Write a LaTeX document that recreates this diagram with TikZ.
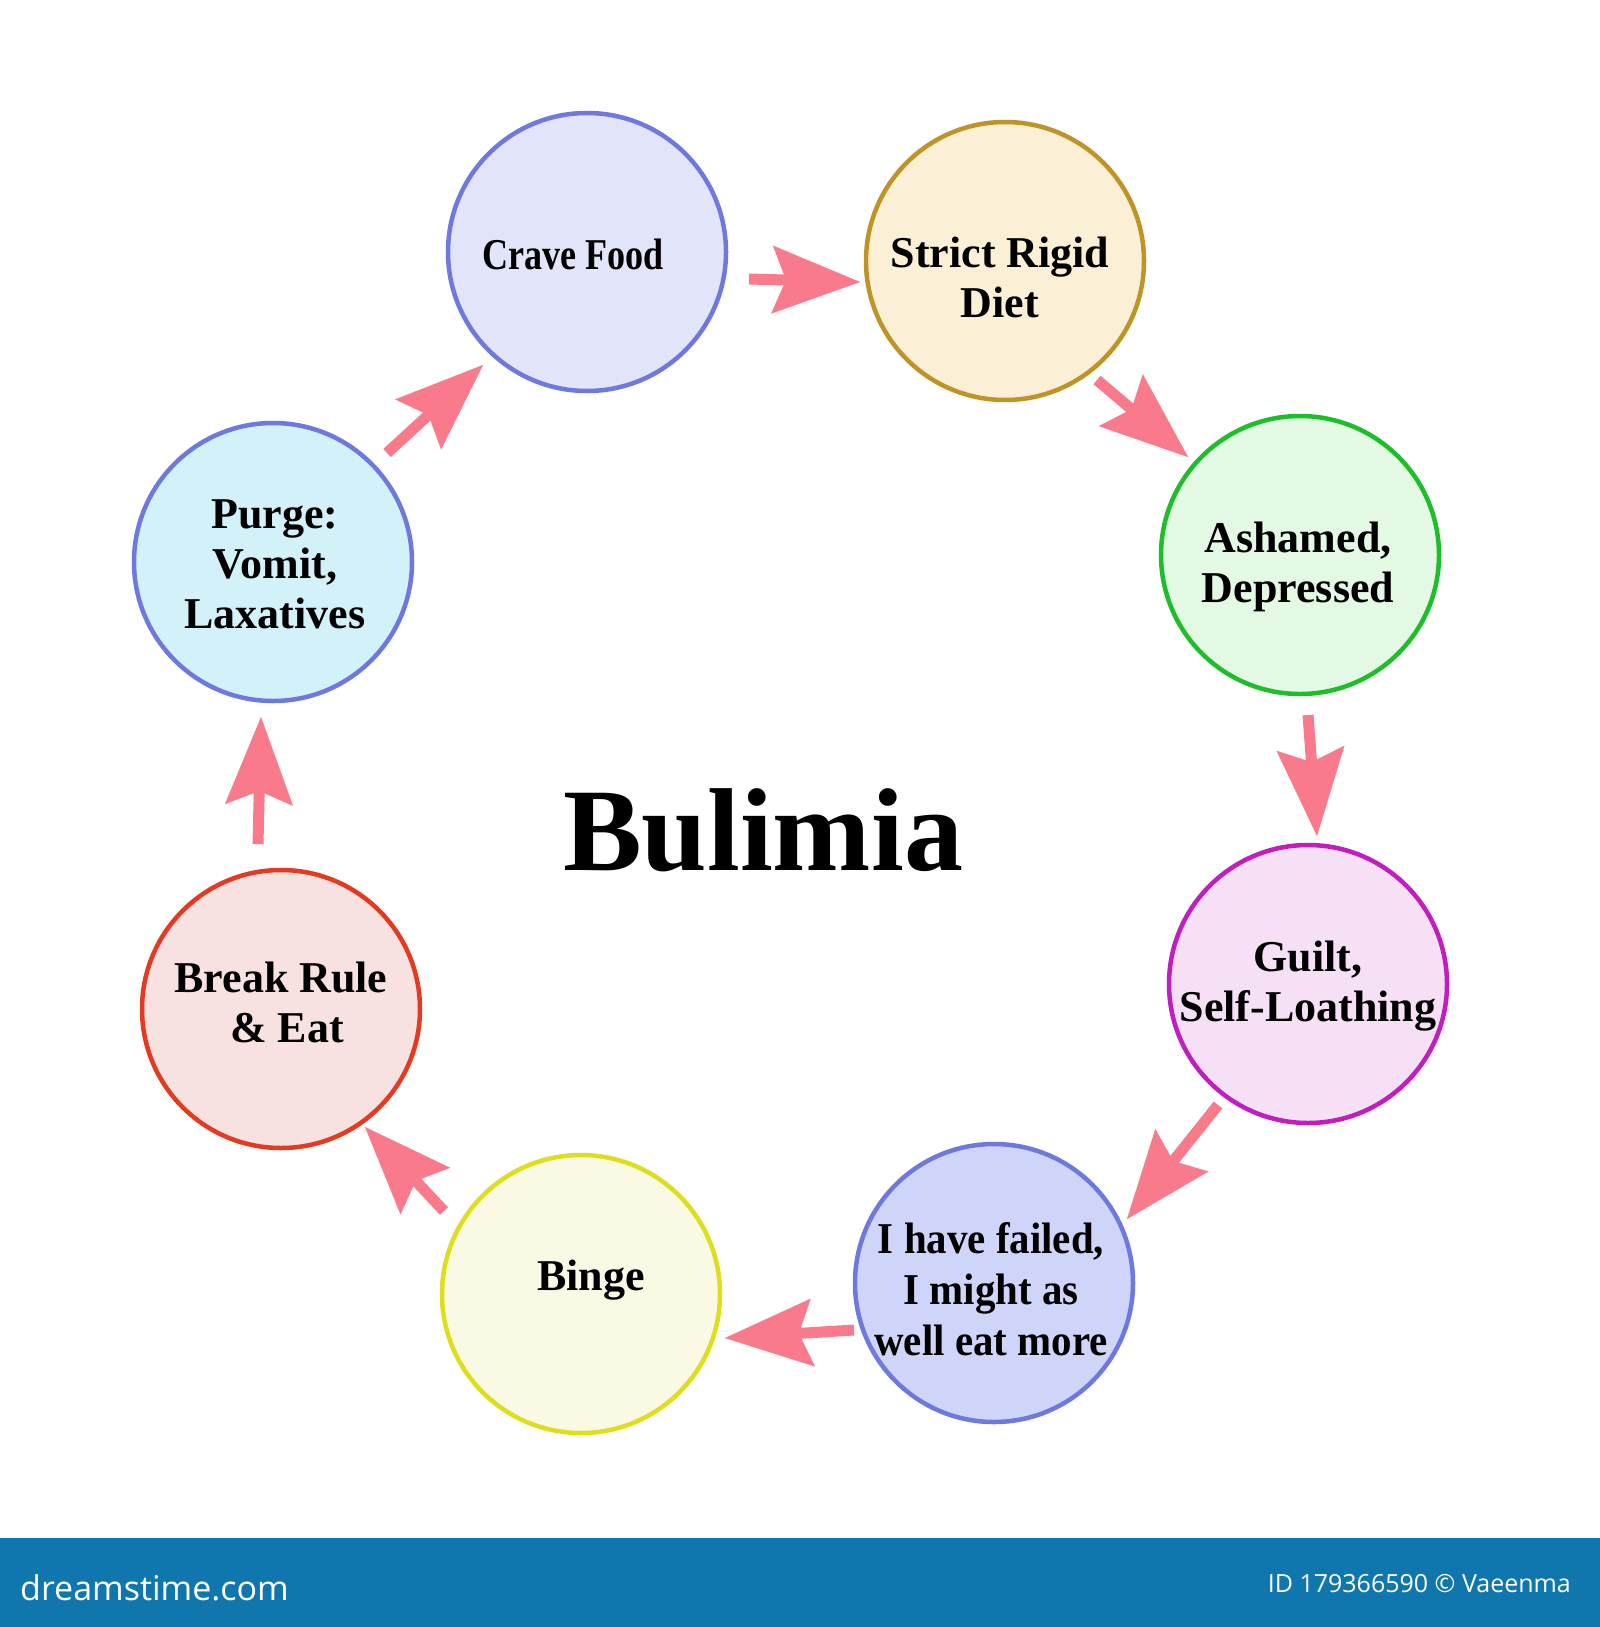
\documentclass[tikz,border=0pt]{standalone}
\usepackage{fontspec}
\usepackage{graphicx}
\setmainfont{Liberation Serif}
\newfontfamily\crvfont[FakeStretch=0.82]{Liberation Serif}
\newfontfamily\cndfont[FakeStretch=0.93]{Liberation Serif}
\newfontfamily\bannerfont{Open Sans}
\usetikzlibrary{arrows.meta,calc}
\definecolor{arrowpink}{HTML}{F87A8B}
\definecolor{craveD}{HTML}{6E79E0}\definecolor{craveF}{HTML}{E2E4F9}
\definecolor{strictD}{HTML}{BF9326}\definecolor{strictF}{HTML}{FBF0D6}
\definecolor{ashD}{HTML}{1EBE2A}\definecolor{ashF}{HTML}{E4F9E4}
\definecolor{guiltD}{HTML}{C21DBE}\definecolor{guiltF}{HTML}{F6E0F5}
\definecolor{failD}{HTML}{6E79E0}\definecolor{failF}{HTML}{CFD4F9}
\definecolor{bingeD}{HTML}{DEDE1E}\definecolor{bingeF}{HTML}{FAFAE4}
\definecolor{breakD}{HTML}{E53A22}\definecolor{breakF}{HTML}{F8E1E1}
\definecolor{purgeD}{HTML}{6E79E0}\definecolor{purgeF}{HTML}{D2F1F9}
\definecolor{bannerblue}{HTML}{1077AE}
\begin{document}
\begin{tikzpicture}[x=1pt,y=-1pt,
  stage/.style={circle, minimum size=278pt, inner sep=0pt, line width=4.5pt},
  lbl/.style={align=center, inner sep=0pt, font=\fontsize{44}{50}\selectfont\bfseries},
  arr/.style={draw=arrowpink, line width=11pt,
    -{Stealth[length=88pt, width=68pt, inset=14pt, line width=0.1pt]}}]
\useasboundingbox (0,0) rectangle (1600,1627);
\fill[white] (0,0) rectangle (1600,1627);

% circles
\node[stage, draw=craveD,  fill=craveF]  (crave)   at (587,252)  {};
\node[stage, draw=strictD, fill=strictF] (strict)  at (1005,261) {};
\node[stage, draw=ashD,    fill=ashF]    (ashamed) at (1300,555) {};
\node[stage, draw=guiltD,  fill=guiltF]  (guilt)   at (1308,984) {};
\node[stage, draw=failD,   fill=failF]   (failed)  at (994,1283) {};
\node[stage, draw=bingeD,  fill=bingeF]  (binge)   at (581,1294) {};
\node[stage, draw=breakD,  fill=breakF]  (breakr)  at (281,1009) {};
\node[stage, draw=purgeD,  fill=purgeF]  (purge)   at (273,562)  {};

% labels
\node[lbl, font=\crvfont\fontsize{44}{50}\selectfont\bfseries] (tcrave) at ($(crave)+(-14,2)$) {Crave Food};
\node[lbl] (tstrict) at ($(strict)+(-5,16)$) {Strict Rigid\\Diet};
\node[lbl] (tashamed) at ($(ashamed)+(-2,12)$) {Ashamed,\\Depressed};
\node[lbl] (tguilt) at ($(guilt)+(0,2)$) {Guilt,\\Self-Loathing};
\node[lbl, font=\cndfont\fontsize{44}{51}\selectfont\bfseries] (tfailed) at ($(failed)+(-3,6)$) {I have failed,\\I might as\\well eat more};
\node[lbl] (tbinge) at ($(binge)+(10,-14)$) {Binge};
\node[lbl] (tbreak) at ($(breakr)+(0,-7)$) {Break Rule\\\phantom{i}\& Eat};
\node[lbl] (tpurge) at ($(purge)+(2,2)$) {Purge:\\Vomit,\\Laxatives};

% title
\node[anchor=base, inner sep=0pt, font=\fontsize{118}{120}\selectfont\bfseries] (title) at (763,870) {Bulimia};

% arrows
\draw[arr] ($(crave)+(162,27)$)   -- ($(strict)+(-145,21)$);
\draw[arr] ($(strict)+(92,119)$)  -- ($(ashamed)+(-112,-98)$);
\draw[arr] ($(ashamed)+(8,160)$)  -- ($(guilt)+(9,-148)$);
\draw[arr] ($(guilt)+(-90,121)$)  -- ($(failed)+(133,-64)$);
\draw[arr] ($(failed)+(-140,47)$) -- ($(binge)+(144,44)$);
\draw[arr] ($(binge)+(-137,-83)$) -- ($(breakr)+(84,118)$);
\draw[arr] ($(breakr)+(-23,-165)$) -- ($(purge)+(-12,155)$);
\draw[arr] ($(purge)+(114,-109)$) -- ($(crave)+(-104,113)$);

% banner
\fill[bannerblue] (0,1538) rectangle (1600,1627);
\node[anchor=base west, inner sep=0pt, text=white, font=\bannerfont\fontsize{34}{36}\selectfont] (logo) at (20,1600) {dreamstime.com};
\node[anchor=base east, inner sep=0pt, text=white, font=\bannerfont\fontsize{25}{28}\selectfont] (credit) at (1571,1592) {ID 179366590 © Vaeenma};
\end{tikzpicture}
\end{document}
